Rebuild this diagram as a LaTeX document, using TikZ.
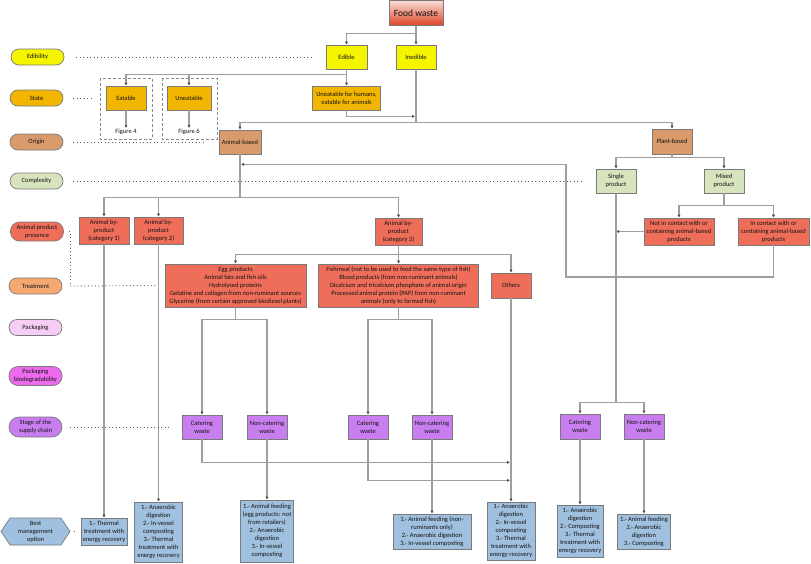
\documentclass[tikz,border=0pt]{standalone}
\usepackage{fontspec}
\setmainfont{Carlito}
\usetikzlibrary{arrows.meta,calc,shapes.symbols}
\definecolor{bordC}{HTML}{7A7A7A}
\definecolor{lineC}{HTML}{9E9E9E}
\definecolor{yelC}{HTML}{F5F500}
\definecolor{oraC}{HTML}{F2B500}
\definecolor{brnC}{HTML}{D99A6C}
\definecolor{grnC}{HTML}{D7E4BD}
\definecolor{redC}{HTML}{EF6E5A}
\definecolor{trC}{HTML}{F5A870}
\definecolor{pkC}{HTML}{F5CDF5}
\definecolor{pbC}{HTML}{EE6AEE}
\definecolor{purC}{HTML}{C97EF0}
\definecolor{bluC}{HTML}{9FC0DE}
\definecolor{fwTop}{HTML}{FADCD6}
\definecolor{fwBot}{HTML}{DD4426}
\begin{document}
\begin{tikzpicture}[x=1pt,y=-1pt,
  tbox/.style={draw=bordC, line width=0.7pt, inner sep=0.5pt, align=center,
    font=\fontsize{6.5}{8}\selectfont, text=black!92},
  sz/.style 2 args={minimum width=#1pt, minimum height=#2pt},
  pillbox/.style={tbox, rounded corners=8pt, minimum width=53pt, minimum height=16pt},
  conn/.style={draw=lineC, line width=1.1pt},
  arr/.style={conn, -{Latex[length=3pt,width=3.2pt,color=black!70]}},
  guide/.style={draw=black!65, line width=0.9pt, dash pattern=on 0.9pt off 2.6pt},
  dashframe/.style={draw=black!45, line width=0.8pt, dash pattern=on 3pt off 2pt},
  plaintext/.style={inner sep=1pt, font=\fontsize{6.5}{8}\selectfont, text=black!92}
]
\useasboundingbox (0,0) rectangle (811,563);

% ---- left legend pills ----
\node[pillbox, fill=yelC] (pEd) at (37.5,57) {Edibility};
\node[pillbox, fill=oraC] (pSt) at (36.5,98) {State};
\node[pillbox, fill=brnC] (pOr) at (36.5,142) {Origin};
\node[pillbox, fill=grnC] (pCo) at (36.5,181) {Complexity};
\node[pillbox, fill=redC, minimum height=19pt, rounded corners=9pt] (pAp) at (37,231.5) {Animal product\\presence};
\node[pillbox, fill=trC] (pTr) at (35.5,286) {Treatment};
\node[pillbox, fill=pkC] (pPk) at (35.5,327.5) {Packaging};
\node[pillbox, fill=pbC, minimum height=19pt, rounded corners=9pt] (pPb) at (35.5,376) {Packaging\\biodegradability};
\node[pillbox, fill=purC, minimum height=20pt, rounded corners=10pt] (pSc) at (35.5,427) {Stage of the\\supply chain};
\node[tbox, fill=bluC, shape=signal, signal to=west and east, signal pointer angle=112,
      minimum width=69pt, minimum height=27pt] (pBm) at (35.5,531.5) {Best\\management\\option};

% ---- top ----
\node[tbox, sz={54}{25}, top color=fwTop, bottom color=fwBot, font=\fontsize{9.5}{11}\selectfont] (fw) at (416,13) {Food waste};
\node[tbox, sz={41}{24}, fill=yelC] (edible) at (346.5,57) {Edible};
\node[tbox, sz={40}{24}, fill=yelC] (inedible) at (416,57) {Inedible};
\node[tbox, sz={68}{24}, fill=oraC] (uneat) at (346.5,98) {Uneatable for humans,\\eatable for animals};
\node[tbox, sz={40}{24}, fill=oraC] (eatable) at (126,98) {Eatable};
\node[tbox, sz={44}{24}, fill=oraC] (uneatable) at (189,98) {Uneatable};
\node[plaintext] (fig4) at (126,132) {Figure 4};
\node[plaintext] (fig6) at (189,132) {Figure 6};
\draw[dashframe] (100,78) rectangle (152,139);
\draw[dashframe] (162,78) rectangle (217,139);

% ---- origin / complexity ----
\node[tbox, sz={42}{24}, fill=brnC] (animal) at (240,142) {Animal-based};
\node[tbox, sz={40}{25}, fill=brnC] (plant) at (672,141.5) {Plant-based};
\node[tbox, sz={40}{24}, fill=grnC] (single) at (616,181) {Single\\product};
\node[tbox, sz={40}{24}, fill=grnC] (mixed) at (724,181) {Mixed\\product};
\node[tbox, sz={70}{27}, fill=redC] (notin) at (679,231.5) {Not in contact with or\\containing animal-based\\products};
\node[tbox, sz={71}{27}, fill=redC] (incont) at (773.5,231.5) {In contact with or\\containing animal-based\\products};

% ---- animal by-products ----
\node[tbox, sz={50}{27}, fill=redC] (cat1) at (104,230.5) {Animal by-\\product\\(category 1)};
\node[tbox, sz={49}{27}, fill=redC] (cat2) at (158.5,230.5) {Animal by-\\product\\(category 2)};
\node[tbox, sz={47}{27}, fill=redC] (cat3) at (398.5,231.5) {Animal by-\\product\\(category 3)};
\node[tbox, sz={141}{43}, fill=redC] (egg) at (235.5,285.5) {Egg products\\Animal fats and fish oils\\Hydrolysed proteins\\Gelatine and collagen from non-ruminant sources\\Glycerine (from certain approved biodiesel plants)};
\node[tbox, sz={160}{43}, fill=redC] (fish) at (398.5,285.5) {Fishmeal (not to be used to feed the same type of fish)\\Blood products (from non-ruminant animals)\\Dicalcium and tricalcium phosphate of animal origin\\Processed animal protein (PAP) from non-ruminant\\animals (only to farmed fish)};
\node[tbox, sz={40}{25}, fill=redC] (others) at (511,285.5) {Others};

% ---- supply chain ----
\node[tbox, sz={40}{24}, fill=purC] (cw1) at (202,427) {Catering\\waste};
\node[tbox, sz={40}{24}, fill=purC] (nc1) at (267,427) {Non-catering\\waste};
\node[tbox, sz={40}{24}, fill=purC] (cw2) at (368,427) {Catering\\waste};
\node[tbox, sz={40}{24}, fill=purC] (nc2) at (432,427) {Non-catering\\waste};
\node[tbox, sz={40}{25}, fill=purC] (cw3) at (580,426.5) {Catering\\waste};
\node[tbox, sz={40}{25}, fill=purC] (nc3) at (644,426.5) {Non-catering\\waste};

% ---- best management ----
\node[tbox, sz={46}{27}, fill=bluC] (b1) at (104,531.5) {1.- Thermal\\treatment with\\energy recovery};
\node[tbox, sz={48}{60}, fill=bluC] (b2) at (158.5,532) {1.- Anaerobic\\digestion\\2.- In-vessel\\composting\\3.- Thermal\\treatment with\\energy recovery};
\node[tbox, sz={53}{62}, fill=bluC] (b3) at (267,531) {1.- Animal feeding\\(egg products: not\\from retailers)\\2.- Anaerobic\\digestion\\3.- In-vessel\\composting};
\node[tbox, sz={78}{35}, fill=bluC] (b4) at (432,531.5) {1.- Animal feeding (non-\\ruminants only)\\2.- Anaerobic digestion\\3.- In-vessel composting};
\node[tbox, sz={48}{58}, fill=bluC] (b5) at (511,531) {1.- Anaerobic\\digestion\\2.- In-vessel\\composting\\3.- Thermal\\treatment with\\energy recovery};
\node[tbox, sz={46}{52}, fill=bluC] (b6) at (580,531) {1.- Anaerobic\\digestion\\2.- Composting\\3.- Thermal\\treatment with\\energy recovery};
\node[tbox, sz={53}{35}, fill=bluC] (b7) at (644,531.5) {1.- Animal feeding\\2.- Anaerobic\\digestion\\3.- Composting};

% ---- connectors ----
\draw[arr] (fw.south) -- ++(0,8) -| (edible.north);
\draw[arr] (fw.south) -- (inedible.north);
\draw[arr] (edible.south) -- (uneat.north);
\draw[arr] (edible.south) -- ++(0,5) -| (eatable.north);
\draw[arr] (edible.south) -- ++(0,5) -| (uneatable.north);
\draw[arr] (eatable.south) -- (fig4.north);
\draw[arr] (uneatable.south) -- (fig6.north);
\draw[arr] (uneat.south) |- ($(inedible.south)+(-1,47)$);
\draw[arr] (inedible.south) -- ++(0,53) -| (animal.north);
\draw[arr] (inedible.south) -- ++(0,53) -| (plant.north);

\draw[arr] (plant.south) -- ++(0,3.5) -| (single.north);
\draw[arr] (plant.south) -- ++(0,3.5) -| (mixed.north);
\draw[arr] (mixed.south) -- ++(0,12) -| (notin.north);
\draw[arr] (mixed.south) -- ++(0,12) -| (incont.north);
\draw[arr] (notin.west) -- (notin.west -| single.south);
\draw[arr] (incont.south) |- (566,277) |- ($(animal.south)+(1,10)$);

\draw[arr] (animal.south) -- ++(0,43) -| (cat1.north);
\draw[arr] (animal.south) -- ++(0,43) -| (cat2.north);
\draw[arr] (animal.south) -- ++(0,43) -| (cat3.north);
\draw[arr] (cat1.south) -- (b1.north);
\draw[arr] (cat2.south) -- (b2.north);
\draw[arr] (cat3.south) -- ++(0,9) -| (egg.north);
\draw[arr] (cat3.south) -- (fish.north);
\draw[arr] (cat3.south) -- ++(0,9) -| (others.north);
\draw[arr] (egg.south) -- ++(0,12) -| (cw1.north);
\draw[arr] (egg.south) -- ++(0,12) -| (nc1.north);
\draw[arr] (fish.south) -- ++(0,12) -| (cw2.north);
\draw[arr] (fish.south) -- ++(0,12) -| (nc2.north);
\draw[arr] (others.south) -- (b5.north);
\draw[arr] (cw1.south) |- ($(others.south)+(-1,164)$);
\draw[arr] (cw2.south) |- ($(others.south)+(-1,182)$);
\draw[arr] (nc1.south) -- (b3.north);
\draw[arr] (nc2.south) -- (b4.north);

\draw[arr] (single.south) -- ++(0,209) -| (cw3.north);
\draw[arr] (single.south) -- ++(0,209) -| (nc3.north);
\draw[arr] (cw3.south) -- (b6.north);
\draw[arr] (nc3.south) -- (b7.north);

% ---- dotted guides ----
\draw[guide] ($(pEd.east)+(12,0)$) -- ($(edible.west)+(-13,0)$);
\draw[guide] ($(pSt.east)+(10,0)$) -- ++(19,0);
\draw[guide] ($(pOr.east)+(10,0)$) -- ($(animal.west)+(-13,0)$);
\draw[guide] ($(pCo.east)+(10,0)$) -- ($(single.west)+(-14,0)$);
\draw[guide] ($(pAp.east)+(5,0)$) -| ($(pTr.east)+(8,0)$);
\draw[guide] ($(pTr.east)+(8,0)$) -- ($(egg.west)+(-8,0)$);
\draw[guide] ($(pSc.east)+(8,0)$) -- ($(cw1.west)+(-12,0)$);
\draw[guide] ($(pBm.east)+(4,0)$) -- ++(2,0);
\end{tikzpicture}
\end{document}
